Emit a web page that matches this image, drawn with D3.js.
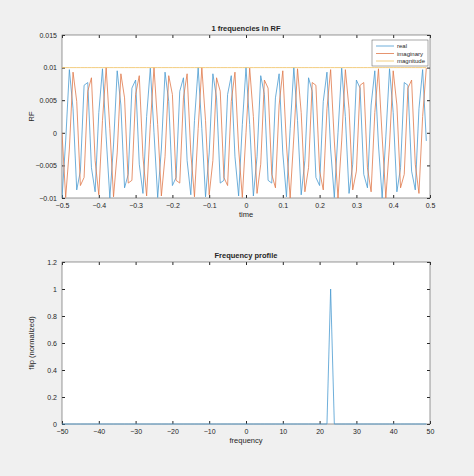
<!DOCTYPE html>
<html>
<head>
<meta charset="utf-8">
<script src="https://d3js.org/d3.v7.min.js"></script>
<style>
body { margin:0; background:#f0f0f0; font-family:'Liberation Sans', Arial, sans-serif; }
text { fill:#262626; }
.tick line { stroke:#262626; }
</style>
</head>
<body>
<svg id="fig" width="474" height="476"></svg>
<script>
// time samples (s), dt = 0.01
var time = d3.range(-50, 50).map(function(k){ return k / 100; });
// real / imaginary parts (x 0.01)
var realPart = [-1,-.125,.969,.368,-.876,-.588,.729,.771,-.536,-.905,.309,.982,-.063,-.998,-.187,.951,.426,-.844,-.637,.685,.809,-.482,-.930,.249,.992,0,-.992,-.249,.930,.482,-.809,-.685,.637,.844,-.426,-.951,.187,.998,.063,-.982,-.309,.905,.536,-.771,-.729,.588,.876,-.368,-.969,.125,
  1,.125,-.969,-.368,.876,.588,-.729,-.771,.536,.905,-.309,-.982,.063,.998,.187,-.951,-.426,.844,.637,-.685,-.809,.482,.930,-.249,-.992,0,.992,.249,-.930,-.482,.809,.685,-.637,-.844,.426,.951,-.187,-.998,-.063,.982,.309,-.905,-.536,.771,.729,-.588,-.876,.368,.969,-.125];
var imagPart = [0,-.992,-.249,.930,.482,-.809,-.685,.637,.844,-.426,-.951,.187,.998,.063,-.982,-.309,.905,.536,-.771,-.729,.588,.876,-.368,-.969,.125,1,.125,-.969,-.368,.876,.588,-.729,-.771,.536,.905,-.309,-.982,.063,.998,.187,-.951,-.426,.844,.637,-.685,-.809,.482,.930,-.249,-.992,
  0,.992,.249,-.930,-.482,.809,.685,-.637,-.844,.426,.951,-.187,-.998,-.063,.982,.309,-.905,-.536,.771,.729,-.588,-.876,.368,.969,-.125,-1,-.125,.969,.368,-.876,-.588,.729,.771,-.536,-.905,.309,.982,-.063,-.998,-.187,.951,.426,-.844,-.637,.685,.809,-.482,-.930,.249,.992];
var magnitude = time.map(function(){ return 1; });
var amp = 0.01;

// frequency profile
var freq = d3.range(-50, 50);
var profile = [0,0,0,0,0,0,0,0,0,0, 0,0,0,0,0,0,0,0,0,0, 0,0,0,0,0,0,0,0,0,0, 0,0,0,0,0,0,0,0,0,0,
  0,0,0,0,0,0,0,0,0,0, 0,0,0,0,0,0,0,0,0,0, 0,0,0,0,0,0,0,0,0,0, 0,0,0,1,0,0,0,0,0,0,
  0,0,0,0,0,0,0,0,0,0, 0,0,0,0,0,0,0,0,0,0];

var colors = ["#4a9bd0", "#e0794a", "#efc060"];
var svg = d3.select("#fig");

function makeAxes(box, xd, yd, xt, yt, title, xl, yl, yfmt) {
  var g = svg.append("g").attr("transform", "translate(" + box.x + "," + box.y + ")");
  g.append("rect").attr("width", box.w).attr("height", box.h).attr("fill", "white");
  var x = d3.scaleLinear().domain(xd).range([0, box.w]);
  var y = d3.scaleLinear().domain(yd).range([box.h, 0]);
  var ax = function(a){ a.selectAll("text").style("font-size", "7px"); a.select(".domain").remove(); };
  g.append("g").attr("transform", "translate(0," + box.h + ")")
    .call(d3.axisBottom(x).tickValues(xt).tickSizeInner(-3).tickSizeOuter(0).tickPadding(5).tickFormat(d3.format("")))
    .call(ax);
  g.append("g").call(d3.axisTop(x).tickValues(xt).tickSizeInner(-3).tickSizeOuter(0).tickFormat(""))
    .call(ax);
  g.append("g").call(d3.axisLeft(y).tickValues(yt).tickSizeInner(-3).tickSizeOuter(0).tickPadding(5).tickFormat(yfmt))
    .call(ax);
  g.append("g").attr("transform", "translate(" + box.w + ",0)")
    .call(d3.axisRight(y).tickValues(yt).tickSizeInner(-3).tickSizeOuter(0).tickFormat(""))
    .call(ax);
  g.append("rect").attr("width", box.w).attr("height", box.h).attr("fill", "none").attr("stroke", "#555").attr("stroke-width", 0.6);
  g.append("text").attr("x", box.w / 2).attr("y", -4).attr("text-anchor", "middle")
    .style("font-size", "7.5px").style("font-weight", "bold").text(title);
  g.append("text").attr("x", box.w / 2).attr("y", box.h + 19).attr("text-anchor", "middle")
    .style("font-size", "7.5px").text(xl);
  g.append("text").attr("transform", "translate(-28," + (box.h / 2) + ") rotate(-90)").attr("text-anchor", "middle")
    .style("font-size", "7.5px").text(yl);
  var clip = "c" + box.y;
  g.append("clipPath").attr("id", clip).append("rect").attr("width", box.w).attr("height", box.h);
  return { g: g, x: x, y: y, clip: clip };
}

// top axes
var top1 = makeAxes({x: 62, y: 35, w: 368, h: 163}, [-0.5, 0.5], [-0.01, 0.015],
  d3.range(-5, 6).map(function(d){ return d / 10; }), [-0.01, -0.005, 0, 0.005, 0.01, 0.015],
  "1 frequencies in RF", "time", "RF", function(d){ return d === 0 ? "0" : d3.format("")(+d.toFixed(3)); });

[realPart, imagPart, magnitude].forEach(function(s, i) {
  top1.g.append("path").datum(s)
    .attr("clip-path", "url(#" + top1.clip + ")")
    .attr("fill", "none").attr("stroke", colors[i]).attr("stroke-width", 0.8)
    .attr("d", d3.line().x(function(d, j){ return top1.x(time[j]); }).y(function(d){ return top1.y(d * amp); }));
});

// legend
var lg = top1.g.append("g").attr("transform", "translate(310,5)");
lg.append("rect").attr("width", 56).attr("height", 26).attr("fill", "white").attr("stroke", "#555").attr("stroke-width", 0.5);
["real", "imaginary", "magnitude"].forEach(function(n, i) {
  lg.append("line").attr("x1", 4).attr("x2", 22).attr("y1", 6 + i * 7.5).attr("y2", 6 + i * 7.5)
    .attr("stroke", colors[i]).attr("stroke-width", 0.8);
  lg.append("text").attr("x", 25).attr("y", 8.3 + i * 7.5).style("font-size", "6px").text(n);
});

// bottom axes
var bot = makeAxes({x: 62, y: 262, w: 368, h: 162}, [-50, 50], [0, 1.2],
  d3.range(-50, 51, 10), [0, 0.2, 0.4, 0.6, 0.8, 1, 1.2],
  "Frequency profile", "frequency", "flip (normalized)", d3.format(""));

bot.g.append("path").datum(profile)
  .attr("fill", "none").attr("stroke", colors[0]).attr("stroke-width", 0.8)
  .attr("d", d3.line().x(function(d, j){ return bot.x(freq[j]); }).y(function(d){ return bot.y(d); }));
</script>
</body>
</html>
